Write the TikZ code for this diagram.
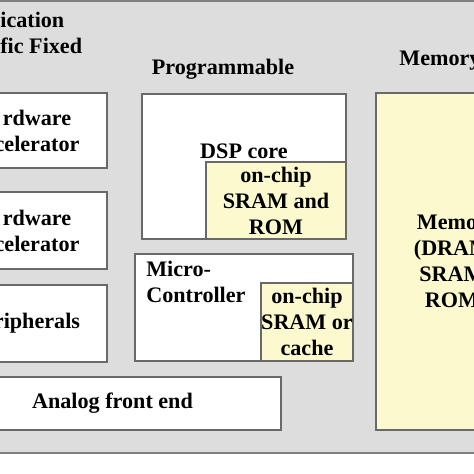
\documentclass[tikz,border=0pt]{standalone}
\usepackage{fontspec}
\setmainfont{Liberation Serif}
\definecolor{bggray}{RGB}{221,221,221}
\definecolor{framegray}{RGB}{128,128,128}
\definecolor{boxgray}{RGB}{105,105,105}
\definecolor{memyellow}{RGB}{251,249,205}
\begin{document}
\begin{tikzpicture}[x=0.02cm, y=-0.02cm, font=\bfseries\fontsize{12.6}{14.8}\selectfont] % one unit = one pixel
\tikzstyle{block} = [draw=boxgray, line width=0.8pt, fill=white, inner sep=0pt, align=center] % white block
\tikzstyle{memblock} = [block, fill=memyellow] % yellow memory block
\tikzstyle{title} = [inner sep=0pt] % group titles

\useasboundingbox (0,0) rectangle (474,474);
\clip (0,0) rectangle (474,474);
\draw[draw=framegray, line width=1.1pt, fill=bggray] (-10,1) rectangle (490,453); % grey panel

% fixed part
\node[title, align=left, anchor=west] (fixedtitle) at (0,33) {ication\\fic Fixed};
\node[block, minimum width=2.8cm, minimum height=1.5cm] (hwa) at (37,130.5) {rdware\\celerator};
\node[block, minimum width=2.8cm, minimum height=1.54cm] (hwb) at (37,230.5) {rdware\\celerator};
\node[block, minimum width=2.8cm, minimum height=1.54cm] (periph) at (37,323.5) {ripherals};
\node[block, minimum width=6.74cm, minimum height=1.06cm] (analog) at (112.5,403.5) {Analog front end};

% programmable part
\node[title, anchor=base] (progtitle) at (223,74) {Programmable};
\node[block, minimum width=4.08cm, minimum height=2.9cm] (dsp) at (244,166.5) {};
\node[title, anchor=base] (dsplabel) at (244,158) {DSP core};
\node[memblock, minimum width=2.8cm, minimum height=1.54cm] (dspmem) at (276,200.5) {on-chip\\SRAM and\\ROM};
\node[block, minimum width=4.36cm, minimum height=2.14cm] (mcu) at (244,307.5) {};
\node[title, align=left, anchor=north west] (mculabel) at (146,261) {Micro-\\Controller};
\node[memblock, minimum width=1.8cm, minimum height=1.56cm] (mcumem) at (307,322) {on-chip\\SRAM or\\cache};

% memory part
\node[title, anchor=base west] (memtitle) at (399,65) {Memory};
\node[memblock, minimum width=3.04cm, minimum height=6.74cm] (mem) at (452,261.5) {Memor\\(DRAM\\SRAM\\ROM};
\end{tikzpicture}
\end{document}
